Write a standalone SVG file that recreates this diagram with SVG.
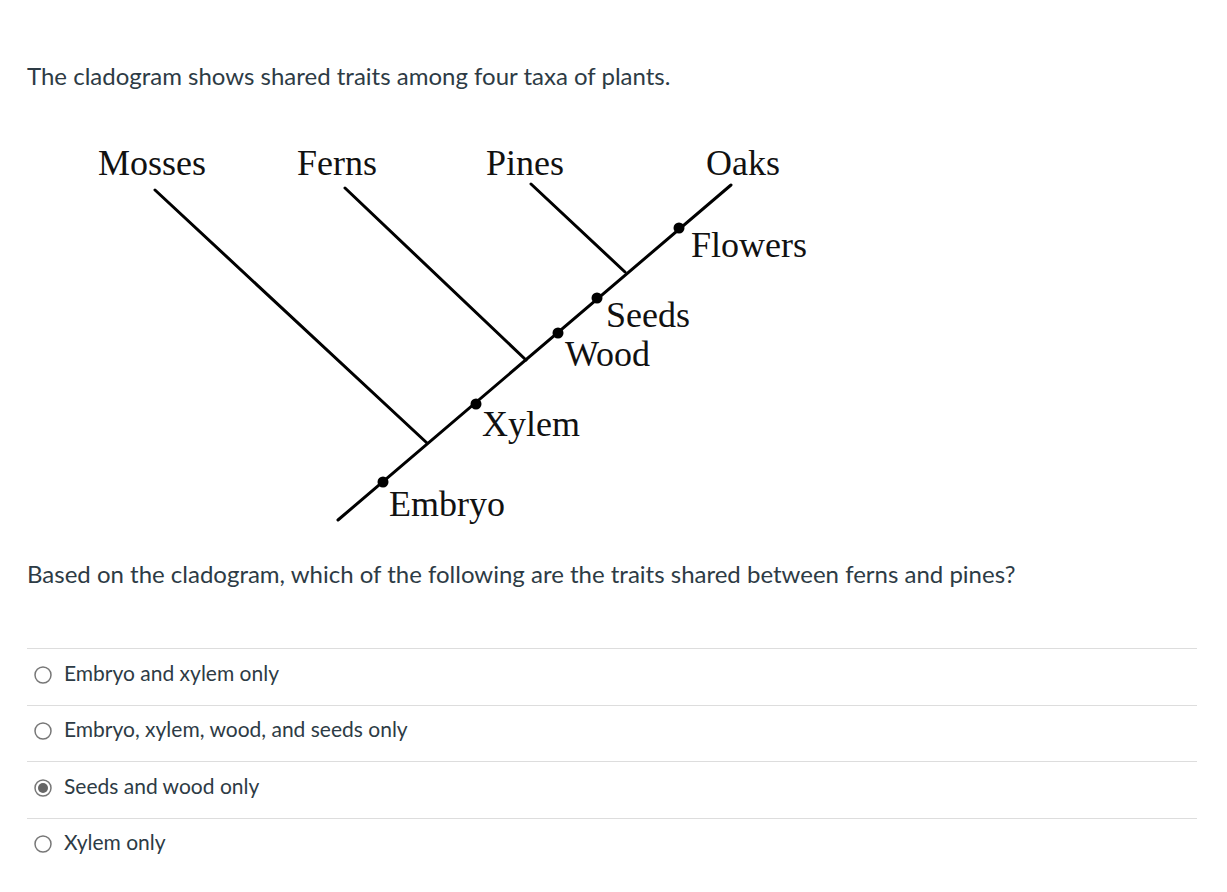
<svg xmlns="http://www.w3.org/2000/svg" width="1227" height="892" viewBox="0 0 1227 892">
<style>
.q{font-family:Lato,"Open Sans",sans-serif;fill:#2d3b45;font-size:24px}
.o{font-family:Lato,"Open Sans",sans-serif;fill:#2d3b45;font-size:21px}
.t{font-family:"Liberation Serif","Times New Roman",serif;fill:#111;font-size:36px}
.br{stroke:#000;stroke-width:3;fill:none;stroke-linecap:round}
.dot{fill:#000}
.sep{stroke:#dddddd;stroke-width:1}
.rad{fill:#fff;stroke:#777;stroke-width:1.5}
</style>
<rect width="1227" height="892" fill="#fff"/>
<text class="q" x="27" y="85">The cladogram shows shared traits among four taxa of plants.</text>
<g id="connectors">
<line class="br" x1="338" y1="520" x2="731" y2="185"/>
<line class="br" x1="155" y1="190" x2="427" y2="443"/>
<line class="br" x1="345" y1="188" x2="526" y2="360"/>
<line class="br" x1="531" y1="184" x2="625" y2="272"/>
</g>
<g id="taxa">
<text class="t" x="152" y="175" text-anchor="middle">Mosses</text>
<text class="t" x="337" y="175" text-anchor="middle">Ferns</text>
<text class="t" x="525" y="175" text-anchor="middle">Pines</text>
<text class="t" x="743" y="175" text-anchor="middle">Oaks</text>
</g>
<g id="trait-embryo"><circle class="dot" cx="383" cy="482" r="5.5"/><text class="t" x="389" y="516">Embryo</text></g>
<g id="trait-xylem"><circle class="dot" cx="476" cy="404" r="5.5"/><text class="t" x="482" y="436">Xylem</text></g>
<g id="trait-wood"><circle class="dot" cx="558" cy="333" r="5.5"/><text class="t" x="565" y="366">Wood</text></g>
<g id="trait-seeds"><circle class="dot" cx="597" cy="298" r="5.5"/><text class="t" x="606" y="327">Seeds</text></g>
<g id="trait-flowers"><circle class="dot" cx="679" cy="228" r="5.5"/><text class="t" x="691" y="257">Flowers</text></g>
<text class="q" x="27" y="583">Based on the cladogram, which of the following are the traits shared between ferns and pines?</text>
<g id="options">
<line class="sep" x1="27" y1="648.5" x2="1197" y2="648.5"/>
<line class="sep" x1="27" y1="705.5" x2="1197" y2="705.5"/>
<line class="sep" x1="27" y1="761.5" x2="1197" y2="761.5"/>
<line class="sep" x1="27" y1="818.5" x2="1197" y2="818.5"/>
<circle class="rad" cx="43" cy="675" r="8"/>
<text class="o" x="64" y="681">Embryo and xylem only</text>
<circle class="rad" cx="43" cy="731" r="8"/>
<text class="o" x="64" y="737">Embryo, xylem, wood, and seeds only</text>
<circle class="rad" cx="43" cy="788" r="8"/>
<circle cx="43" cy="788" r="5" fill="#666"/>
<text class="o" x="64" y="794">Seeds and wood only</text>
<circle class="rad" cx="43" cy="844" r="8"/>
<text class="o" x="64" y="850">Xylem only</text>
</g>
</svg>
